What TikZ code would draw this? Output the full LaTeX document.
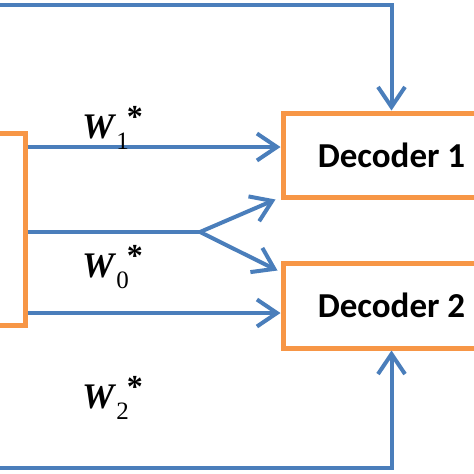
\documentclass[tikz,border=0pt]{standalone}
\usepackage{fontspec}
\setmainfont{Liberation Serif}
\newfontfamily\decfont{Carlito}
\usetikzlibrary{arrows.meta,positioning}
\definecolor{linkblue}{RGB}{74,126,187}
\definecolor{boxorange}{RGB}{247,150,70}
\newcommand{\wstar}[1]{\textbf{\textit{W}}\raisebox{-11pt}{\fontsize{25}{25}\selectfont #1}\kern-2pt\raisebox{11pt}{\fontsize{32}{32}\selectfont\bfseries *}}
\tikzset{
  box/.style={draw=boxorange, line width=5pt, fill=white, inner sep=0pt,
    font=\decfont\bfseries\fontsize{35}{38}\selectfont},
  wire/.style={draw=linkblue, line width=4pt},
  link/.style={wire, -{Straight Barb[length=20pt,width=27pt,line width=4pt]}},
  wlabel/.style={anchor=base west, inner sep=0pt, font=\fontsize{36}{40}\selectfont}
}
\begin{document}
\begin{tikzpicture}[x=1pt,y=-1pt]
        % page frame, parts of the boxes run off it
        \useasboundingbox (0,0) rectangle (474,474);
        \clip (0,0) rectangle (474,474);
        \node[box, minimum width=125pt, minimum height=192pt] (enc) at (-37.5,229) {};
        \node[box, minimum width=217pt, minimum height=84pt] (dec1) at (391.5,155) {Decoder 1};
        \node[box, minimum width=217pt, minimum height=85pt] (dec2) at (391.5,305.5) {Decoder 2};
        % private channels round the outside
        \coordinate (top) at (-5,5);
        \coordinate (bottom) at (-5,468);
        \draw[link] (top) -| (dec1.north);
        \draw[link] (bottom) -| (dec2.south);
        % channels out of the encoder
        \coordinate (y1) at (0,147);
        \coordinate (fork) at (200,232);
        \coordinate (y2) at (0,313);
        \draw[link] (enc.east |- y1) -- (dec1.west |- y1);
        \draw[wire] (enc.east |- fork) -- (fork);
        \draw[link] (fork) -- ([xshift=-5pt]dec1.south west);
        \draw[link] (fork) -- ([xshift=-3pt,yshift=-10pt]dec2.north west);
        \draw[link] (enc.east |- y2) -- (dec2.west |- y2);
        \node[wlabel] (w1) at (82,138) {\wstar{1}};
        \node[wlabel] (w0) at (82,277) {\wstar{0}};
        \node[wlabel] (w2) at (82,408) {\wstar{2}};
    \end{tikzpicture}
\end{document}
